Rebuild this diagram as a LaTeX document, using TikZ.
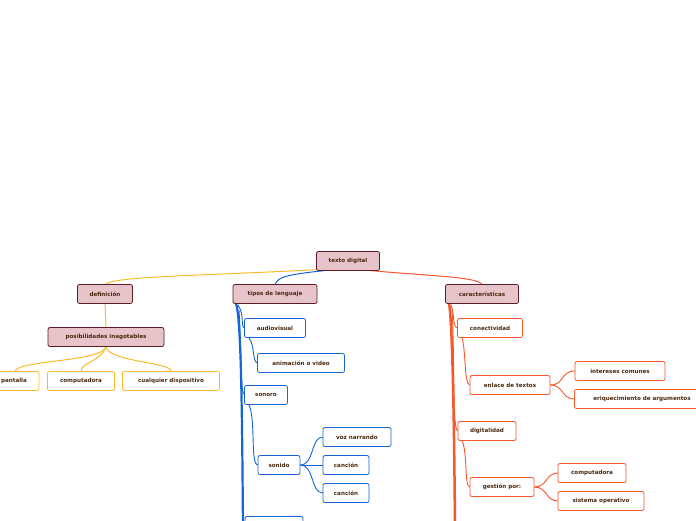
\documentclass[tikz,border=0pt]{standalone}
\usepackage{fontspec}
\setmainfont{DejaVu Sans}
\begin{document}
\begin{tikzpicture}[x=1pt,y=-1pt,
 every node/.style={font=\bfseries\fontsize{5.6}{6}\selectfont,text=txt,rounded corners=2pt,line width=0.8pt,minimum height=19pt,inner xsep=5pt,anchor=center},
 mainbox/.style={draw=mainb,fill=mainf},
 ybox/.style={draw=ycol,fill=white},
 bbox/.style={draw=bcol,fill=white},
 obox/.style={draw=ocol,fill=white},
 yl/.style={draw=ycol,line width=1pt},
 bl/.style={draw=bcol,line width=1pt},
 ol/.style={draw=ocol,line width=1pt}]
\definecolor{txt}{HTML}{4A2A10}
\definecolor{mainb}{HTML}{5C1A2A}
\definecolor{mainf}{HTML}{E6C4CA}
\definecolor{ycol}{HTML}{F9BA2A}
\definecolor{bcol}{HTML}{1565D8}
\definecolor{ocol}{HTML}{F7572B}
\useasboundingbox (0,0) rectangle (696,520);
\clip (0,0) rectangle (696,520);
% coordinates
\coordinate (bt) at (241,303);
\coordinate (bb) at (243,530);
\coordinate (ot) at (452,303);
\coordinate (ob) at (455,530);
% connectors first
\draw[yl] (330,269) .. controls (200,276) and (110,276) .. (105,285);
\draw[bl] (340,269) .. controls (290,274) and (277,276) .. (275,285);
\draw[ol] (355,269) .. controls (420,276) and (480,276) .. (482,285);
\draw[yl] (105,303) -- (106,328);
\draw[yl] (106,347) .. controls (100,362) and (20,360) .. (15,371);
\draw[yl] (106,347) .. controls (100,362) and (82,362) .. (81,371);
\draw[yl] (106,347) .. controls (110,362) and (170,362) .. (171,371);
\draw[bcol,line width=2.2pt] (236,303) .. controls (241,320) and (242,400) .. (243,530);
\draw[ocol,line width=2.5pt] (449,303) .. controls (452,320) and (454,400) .. (455,530);
\begin{scope}[bl,line width=0.9pt]
\draw (238,305) .. controls (245,315) and (240,328) .. (245,328);
\draw (249,338) .. controls (255,345) and (252,363) .. (258,363);
\draw (239,310) .. controls (242,360) and (240,395) .. (245,395);
\draw (249,405) .. controls (256,420) and (250,465) .. (258,465);
\draw (300,465) .. controls (315,465) and (310,437) .. (323,437);
\draw (300,465) -- (323,465);
\draw (300,465) .. controls (315,465) and (310,493) .. (323,493);
\end{scope}
\begin{scope}[ol,line width=0.9pt]
\draw (451,305) .. controls (455,315) and (452,328) .. (458,328);
\draw (462,338) .. controls (466,350) and (464,385) .. (470,385);
\draw (452,310) .. controls (455,360) and (452,431) .. (458,431);
\draw (462,440) .. controls (468,455) and (464,487) .. (470,487);
\draw (550,385) .. controls (565,385) and (560,371) .. (575,371);
\draw (550,385) .. controls (565,385) and (560,399) .. (575,399);
\draw (534,487) .. controls (548,487) and (545,473) .. (558,473);
\draw (534,487) .. controls (548,487) and (545,501) .. (558,501);
\end{scope}
% nodes
\node[mainbox,minimum width=63pt] (root) at (348,261) {texto digital};
\node[mainbox,minimum width=55pt] (def) at (105,294) {definición};
\node[mainbox,minimum width=84pt] (tip) at (275,294) {tipos de lenguaje};
\node[mainbox,minimum width=73pt] (car) at (482,294) {características};
\node[mainbox,minimum width=116pt] (pos) at (106,337) {posibilidades inagotables};
\node[ybox,minimum width=50pt] (pan) at (14,381) {pantalla};
\node[ybox,minimum width=67pt] (comp) at (81,381) {computadora};
\node[ybox,minimum width=97pt] (cual) at (171,381) {cualquier dispositivo};
\node[bbox,minimum width=61pt] (aud) at (275,328) {audiovisual};
\node[bbox,minimum width=87pt] (ani) at (301,363) {animación o video};
\node[bbox,minimum width=43pt] (son) at (266,395) {sonoro};
\node[bbox,minimum width=42pt] (sid) at (279,465) {sonido};
\node[bbox,minimum width=68pt] (voz) at (357,437) {voz narrando};
\node[bbox,minimum width=46pt] (can1) at (346,465) {canción};
\node[bbox,minimum width=46pt] (can2) at (346,493) {canción};
\node[bbox,minimum width=58pt] (bot) at (274,526) {};
\node[obox,minimum width=65pt] (con) at (490,328) {conectividad};
\node[obox,minimum width=80pt] (enl) at (510,385) {enlace de textos};
\node[obox,minimum width=90pt] (int) at (620,371) {intereses comunes};
\node[obox,minimum width=135pt] (enr) at (642,399) {eriquecimiento de argumentos};
\node[obox,minimum width=58pt] (dig) at (487,431) {digitalidad};
\node[obox,minimum width=64pt] (ges) at (502,487) {gestión por:};
\node[obox,minimum width=68pt] (gcomp) at (592,473) {computadora};
\node[obox,minimum width=86pt] (sis) at (601,501) {sistema operativo};
\end{tikzpicture}
\end{document}
